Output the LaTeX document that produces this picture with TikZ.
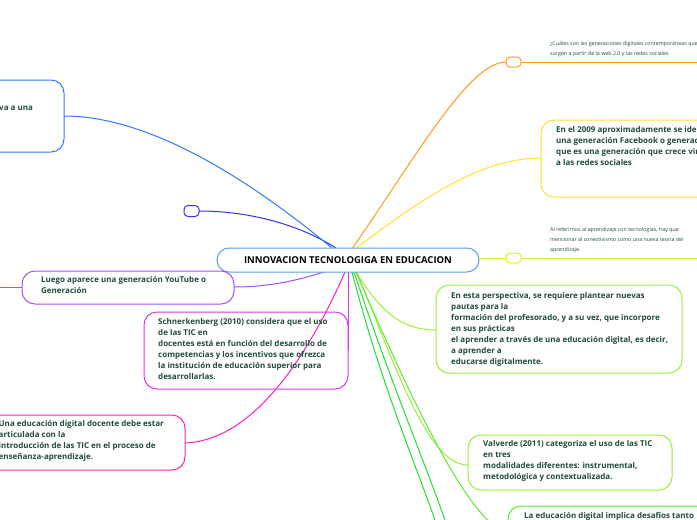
\documentclass[tikz,border=0pt]{standalone}
\usepackage{fontspec}
\setmainfont{Open Sans}
\definecolor{txt}{HTML}{1E4B3C}
\definecolor{cOr}{HTML}{FF9A1A}
\definecolor{cYe}{HTML}{FFE033}
\definecolor{cYg}{HTML}{D8F23A}
\definecolor{cLg}{HTML}{9BEE3A}
\definecolor{cGr}{HTML}{5EEB2E}
\definecolor{cBg}{HTML}{22DD33}
\definecolor{cPk}{HTML}{FF1FBE}
\definecolor{cMg}{HTML}{DD33EE}
\definecolor{cPu}{HTML}{9955FF}
\definecolor{cBp}{HTML}{3333EE}
\definecolor{cBl}{HTML}{3377FF}
\definecolor{cCe}{HTML}{5A9FDD}
\tikzset{
 box/.style={draw=#1,line width=1pt,rounded corners=13pt},
 txtb/.style={anchor=north west,align=left,text=txt,font=\fontsize{8}{11}\selectfont\bfseries,inner sep=0pt},
 txts/.style={anchor=north west,align=left,text=txt,font=\fontsize{5.3}{10}\selectfont,inner sep=0pt},
 con/.style={draw=#1,line width=1pt},
}
\begin{document}
\begin{tikzpicture}[x=1pt,y=-1pt]
\useasboundingbox (0,0) rectangle (697,520);
\clip (0,0) rectangle (697,520);
% connectors
\draw[con=cOr] (352,249) .. controls (420,150) and (470,62) .. (506,62);
\draw[con=cOr] (521,62) -- (697,62);
\draw[con=cYe] (355,249) .. controls (420,200) and (480,158) .. (541,158);
\draw[con=cYg] (479,258) -- (506,258);
\draw[con=cYg] (521,258) -- (697,258);
\draw[con=cLg] (356,272) .. controls (380,310) and (400,330) .. (436,330);
\draw[con=cLg] (357,272) .. controls (400,380) and (430,465) .. (468,465);
\draw[con=cGr] (356,272) .. controls (420,420) and (470,520) .. (508,535);
\draw[con=cBg] (352,272) .. controls (380,380) and (410,450) .. (435,520);
\draw[con=cBg] (354,272) .. controls (390,380) and (420,450) .. (445,520);
\draw[con=cPk] (345,272) .. controls (315,340) and (260,440) .. (185,443);
\draw[con=cMg] (348,272) -- (348,350);
\draw[con=cPu] (330,270) .. controls (300,280) and (270,287) .. (234,287);
\draw[con=cPu] (0,287) -- (22,287);
\draw[con=cBp] (336,248) .. controls (300,225) and (250,211) .. (199,211);
\draw[con=cBl] (332,248) .. controls (250,180) and (150,116) .. (64,116);
% nodes
\node[box=cCe,fill=white,rounded corners=12pt,minimum width=262pt,minimum height=24pt,text=black,font=\fontsize{9.5}{11}\selectfont\bfseries,inner sep=0pt] (center) at (348,260) {INNOVACION TECNOLOGIGA EN EDUCACION};
\node[draw=cOr,line width=1pt,rounded corners=4pt,minimum width=15pt,minimum height=10pt,inner sep=0pt] (o1) at (513.5,62) {};
\node[txts] (t1) at (550,41) {¿Cuáles son las generaciones digitales contemporáneas que\\surgen a partir de la web 2.0 y las redes sociales};
\draw[box=cYe] (541,120) rectangle (720,197);
\node[txtb] (t2) at (556,126) {En el 2009 aproximadamente se identifica\\una generación Facebook o generación Face\\que es una generación que crece vinculada\\a las redes sociales};
\node[draw=cYg,line width=1pt,rounded corners=4pt,minimum width=15pt,minimum height=10pt,inner sep=0pt] (o3) at (513.5,258) {};
\node[txts] (t3) at (550,227) {Al referirnos al aprendizaje con tecnologías, hay que\\mencionar al conectivismo como una nueva teoría del\\aprendizaje.};
\draw[box=cLg] (436,285) rectangle (682,373);
\node[txtb] (t4) at (451,292) {En esta perspectiva, se requiere plantear nuevas\\pautas para la\\formación del profesorado, y a su vez, que incorpore\\en sus prácticas\\el aprender a través de una educación digital, es decir,\\a aprender a\\educarse digitalmente.};
\draw[box=cLg] (468,435) rectangle (672,490);
\node[txtb] (t5) at (483,440) {Valverde (2011) categoriza el uso de las TIC\\en tres\\modalidades diferentes: instrumental,\\metodológica y contextualizada.};
\draw[box=cGr] (508,506) rectangle (720,560);
\node[txtb] (t6) at (524,512) {La educación digital implica desafíos tanto};
\draw[box=cPk] (-20,415) rectangle (185,470);
\node[txtb] (t7) at (-1.5,420) {Una educación digital docente debe estar\\articulada con la\\introducción de las TIC en el proceso de\\enseñanza-aprendizaje.};
\draw[box=cMg] (144,312) rectangle (348,389);
\node[txtb] (t8) at (158,318) {Schnerkenberg (2010) considera que el uso\\de las TIC en\\docentes está en función del desarrollo de\\competencias y los incentivos que ofrezca\\la institución de educación superior para\\desarrollarlas.};
\draw[box=cPu] (22,271) rectangle (234,304);
\node[txtb] (t9) at (41,276) {Luego aparece una generación YouTube o\\Generación};
\node[draw=cBp,line width=1pt,rounded corners=4pt,minimum width=15pt,minimum height=11pt,inner sep=0pt] (o11) at (191.5,211) {};
\draw[box=cBl] (-30,80) rectangle (64,152);
\node[txtb] (t12) at (-1,106) {va a una};
\end{tikzpicture}
\end{document}
